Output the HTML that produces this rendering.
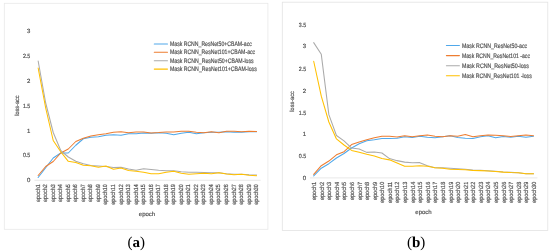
<!DOCTYPE html>
<html lang="en"><head><meta charset="utf-8"><title>loss-acc curves</title>
<style>
html,body{margin:0;padding:0;background:#fff;}
body{width:550px;height:252px;overflow:hidden;}
svg{display:block;font-family:"Liberation Sans",sans-serif;text-rendering:geometricPrecision;}
.c text{stroke:#505050;stroke-width:0.18px;}
.c text.cap{stroke:none;}
</style></head><body>
<svg width="550" height="252" viewBox="0 0 550 252">
<rect x="0" y="0" width="550" height="252" fill="#ffffff"/>
<g class="c">
<rect x="4.3" y="3.3" width="263.59999999999997" height="226.0" fill="#fff" stroke="#e8e8e8" stroke-width="0.8"/>
<line x1="34.4" y1="180.3" x2="260.6" y2="180.3" stroke="#dedede" stroke-width="0.7"/>
<text x="30.3" y="182.35" text-anchor="end" font-size="6.0" fill="#505050">0</text>
<text x="30.3" y="157.30" text-anchor="end" font-size="6.0" fill="#505050" textLength="7.4" lengthAdjust="spacingAndGlyphs">0.5</text>
<text x="30.3" y="132.65" text-anchor="end" font-size="6.0" fill="#505050">1</text>
<text x="30.3" y="107.70" text-anchor="end" font-size="6.0" fill="#505050" textLength="7.4" lengthAdjust="spacingAndGlyphs">1.5</text>
<text x="30.3" y="83.10" text-anchor="end" font-size="6.0" fill="#505050">2</text>
<text x="30.3" y="58.05" text-anchor="end" font-size="6.0" fill="#505050" textLength="7.4" lengthAdjust="spacingAndGlyphs">2.5</text>
<text x="30.3" y="32.85" text-anchor="end" font-size="6.0" fill="#505050">3</text>
<text transform="translate(39.65,184.20) rotate(-90)" text-anchor="end" font-size="6.0" fill="#505050" textLength="17.8" lengthAdjust="spacingAndGlyphs">epoch1</text>
<text transform="translate(47.18,184.20) rotate(-90)" text-anchor="end" font-size="6.0" fill="#505050" textLength="17.8" lengthAdjust="spacingAndGlyphs">epoch2</text>
<text transform="translate(54.72,184.20) rotate(-90)" text-anchor="end" font-size="6.0" fill="#505050" textLength="17.8" lengthAdjust="spacingAndGlyphs">epoch3</text>
<text transform="translate(62.25,184.20) rotate(-90)" text-anchor="end" font-size="6.0" fill="#505050" textLength="17.8" lengthAdjust="spacingAndGlyphs">epoch4</text>
<text transform="translate(69.78,184.20) rotate(-90)" text-anchor="end" font-size="6.0" fill="#505050" textLength="17.8" lengthAdjust="spacingAndGlyphs">epoch5</text>
<text transform="translate(77.31,184.20) rotate(-90)" text-anchor="end" font-size="6.0" fill="#505050" textLength="17.8" lengthAdjust="spacingAndGlyphs">epoch6</text>
<text transform="translate(84.85,184.20) rotate(-90)" text-anchor="end" font-size="6.0" fill="#505050" textLength="17.8" lengthAdjust="spacingAndGlyphs">epoch7</text>
<text transform="translate(92.38,184.20) rotate(-90)" text-anchor="end" font-size="6.0" fill="#505050" textLength="17.8" lengthAdjust="spacingAndGlyphs">epoch8</text>
<text transform="translate(99.91,184.20) rotate(-90)" text-anchor="end" font-size="6.0" fill="#505050" textLength="17.8" lengthAdjust="spacingAndGlyphs">epoch9</text>
<text transform="translate(107.44,184.20) rotate(-90)" text-anchor="end" font-size="6.0" fill="#505050" textLength="20.6" lengthAdjust="spacingAndGlyphs">epoch10</text>
<text transform="translate(114.98,184.20) rotate(-90)" text-anchor="end" font-size="6.0" fill="#505050" textLength="20.6" lengthAdjust="spacingAndGlyphs">epoch11</text>
<text transform="translate(122.51,184.20) rotate(-90)" text-anchor="end" font-size="6.0" fill="#505050" textLength="20.6" lengthAdjust="spacingAndGlyphs">epoch12</text>
<text transform="translate(130.04,184.20) rotate(-90)" text-anchor="end" font-size="6.0" fill="#505050" textLength="20.6" lengthAdjust="spacingAndGlyphs">epoch13</text>
<text transform="translate(137.58,184.20) rotate(-90)" text-anchor="end" font-size="6.0" fill="#505050" textLength="20.6" lengthAdjust="spacingAndGlyphs">epoch14</text>
<text transform="translate(145.11,184.20) rotate(-90)" text-anchor="end" font-size="6.0" fill="#505050" textLength="20.6" lengthAdjust="spacingAndGlyphs">epoch15</text>
<text transform="translate(152.64,184.20) rotate(-90)" text-anchor="end" font-size="6.0" fill="#505050" textLength="20.6" lengthAdjust="spacingAndGlyphs">epoch16</text>
<text transform="translate(160.17,184.20) rotate(-90)" text-anchor="end" font-size="6.0" fill="#505050" textLength="20.6" lengthAdjust="spacingAndGlyphs">epoch17</text>
<text transform="translate(167.71,184.20) rotate(-90)" text-anchor="end" font-size="6.0" fill="#505050" textLength="20.6" lengthAdjust="spacingAndGlyphs">epoch18</text>
<text transform="translate(175.24,184.20) rotate(-90)" text-anchor="end" font-size="6.0" fill="#505050" textLength="20.6" lengthAdjust="spacingAndGlyphs">epoch19</text>
<text transform="translate(182.77,184.20) rotate(-90)" text-anchor="end" font-size="6.0" fill="#505050" textLength="20.6" lengthAdjust="spacingAndGlyphs">epoch20</text>
<text transform="translate(190.31,184.20) rotate(-90)" text-anchor="end" font-size="6.0" fill="#505050" textLength="20.6" lengthAdjust="spacingAndGlyphs">epoch21</text>
<text transform="translate(197.84,184.20) rotate(-90)" text-anchor="end" font-size="6.0" fill="#505050" textLength="20.6" lengthAdjust="spacingAndGlyphs">epoch22</text>
<text transform="translate(205.37,184.20) rotate(-90)" text-anchor="end" font-size="6.0" fill="#505050" textLength="20.6" lengthAdjust="spacingAndGlyphs">epoch23</text>
<text transform="translate(212.90,184.20) rotate(-90)" text-anchor="end" font-size="6.0" fill="#505050" textLength="20.6" lengthAdjust="spacingAndGlyphs">epoch24</text>
<text transform="translate(220.44,184.20) rotate(-90)" text-anchor="end" font-size="6.0" fill="#505050" textLength="20.6" lengthAdjust="spacingAndGlyphs">epoch25</text>
<text transform="translate(227.97,184.20) rotate(-90)" text-anchor="end" font-size="6.0" fill="#505050" textLength="20.6" lengthAdjust="spacingAndGlyphs">epoch26</text>
<text transform="translate(235.50,184.20) rotate(-90)" text-anchor="end" font-size="6.0" fill="#505050" textLength="20.6" lengthAdjust="spacingAndGlyphs">epoch27</text>
<text transform="translate(243.03,184.20) rotate(-90)" text-anchor="end" font-size="6.0" fill="#505050" textLength="20.6" lengthAdjust="spacingAndGlyphs">epoch28</text>
<text transform="translate(250.57,184.20) rotate(-90)" text-anchor="end" font-size="6.0" fill="#505050" textLength="20.6" lengthAdjust="spacingAndGlyphs">epoch29</text>
<text transform="translate(258.10,184.20) rotate(-90)" text-anchor="end" font-size="6.0" fill="#505050" textLength="20.6" lengthAdjust="spacingAndGlyphs">epoch30</text>
<text x="147" y="215.5" text-anchor="middle" font-size="6.0" fill="#505050">epoch</text>
<text transform="translate(18.6,105.6) rotate(-90)" text-anchor="middle" font-size="6.0" fill="#505050" textLength="20.4" lengthAdjust="spacingAndGlyphs">loss-acc</text>
<polyline points="38.15,177.50 45.68,167.80 53.22,158.00 60.75,153.00 68.28,153.00 75.81,145.25 83.35,138.75 90.88,137.25 98.41,136.65 105.94,135.15 113.48,134.75 121.01,135.25 128.54,133.70 136.08,133.70 143.61,133.00 151.14,133.20 158.67,132.70 166.21,133.20 173.74,134.70 181.27,133.20 188.81,132.15 196.34,133.75 203.87,132.70 211.40,132.15 218.94,132.15 226.47,131.65 234.00,132.15 241.53,132.15 249.07,131.65 256.60,131.65" fill="none" stroke="#50a8ea" stroke-width="1.05" stroke-linejoin="round" stroke-linecap="round"/>
<polyline points="38.15,175.50 45.68,166.50 53.22,161.50 60.75,153.00 68.28,149.00 75.81,141.50 83.35,138.20 90.88,136.00 98.41,134.75 105.94,133.70 113.48,132.20 121.01,131.70 128.54,132.70 136.08,131.90 143.61,131.90 151.14,133.10 158.67,132.60 166.21,131.90 173.74,131.90 181.27,131.15 188.81,131.15 196.34,132.15 203.87,132.70 211.40,131.65 218.94,132.70 226.47,131.15 234.00,131.15 241.53,131.65 249.07,131.15 256.60,131.50" fill="none" stroke="#ed7d31" stroke-width="1.05" stroke-linejoin="round" stroke-linecap="round"/>
<polyline points="38.15,61.00 45.68,103.00 53.22,132.50 60.75,150.50 68.28,157.00 75.81,161.30 83.35,163.85 90.88,165.50 98.41,165.90 105.94,166.40 113.48,167.40 121.01,167.30 128.54,169.00 136.08,170.25 143.61,168.70 151.14,169.50 158.67,170.25 166.21,170.75 173.74,170.75 181.27,171.75 188.81,172.25 196.34,172.25 203.87,172.50 211.40,172.75 218.94,172.75 226.47,173.80 234.00,174.30 241.53,174.30 249.07,174.80 256.60,175.10" fill="none" stroke="#ababab" stroke-width="1.05" stroke-linejoin="round" stroke-linecap="round"/>
<polyline points="38.15,68.00 45.68,108.00 53.22,140.50 60.75,151.75 68.28,161.30 75.81,162.45 83.35,165.35 90.88,165.75 98.41,167.30 105.94,166.00 113.48,169.20 121.01,168.05 128.54,170.50 136.08,171.25 143.61,172.25 151.14,173.80 158.67,173.80 166.21,172.25 173.74,171.25 181.27,173.30 188.81,174.30 196.34,173.80 203.87,173.30 211.40,173.80 218.94,172.75 226.47,174.00 234.00,174.80 241.53,174.30 249.07,175.30 256.60,175.80" fill="none" stroke="#ffc000" stroke-width="1.05" stroke-linejoin="round" stroke-linecap="round"/>
<line x1="154.3" y1="43.9" x2="167.5" y2="43.9" stroke="#50a8ea" stroke-width="1.05" stroke-linecap="round"/>
<text x="170.0" y="46.05" font-size="6.4" fill="#505050" textLength="81.8" lengthAdjust="spacingAndGlyphs">Mask RCNN_ResNet50+CBAM-acc</text>
<line x1="154.3" y1="52.3" x2="167.5" y2="52.3" stroke="#ed7d31" stroke-width="1.05" stroke-linecap="round"/>
<text x="170.0" y="54.45" font-size="6.4" fill="#505050" textLength="85.2" lengthAdjust="spacingAndGlyphs">Mask RCNN_ResNet101+CBAM-acc</text>
<line x1="154.3" y1="60.7" x2="167.5" y2="60.7" stroke="#ababab" stroke-width="1.05" stroke-linecap="round"/>
<text x="170.0" y="62.85" font-size="6.4" fill="#505050" textLength="83.6" lengthAdjust="spacingAndGlyphs">Mask RCNN_ResNet50+CBAM-loss</text>
<line x1="154.3" y1="69.1" x2="167.5" y2="69.1" stroke="#ffc000" stroke-width="1.05" stroke-linecap="round"/>
<text x="170.0" y="71.25" font-size="6.4" fill="#505050" textLength="86.8" lengthAdjust="spacingAndGlyphs">Mask RCNN_ResNet101+CBAM-loss</text>
<text x="136.3" y="247.2" class="cap" text-anchor="middle" font-family="'Liberation Serif', serif" font-size="15" fill="#000">(<tspan font-weight="bold">a</tspan>)</text>
</g>
<g class="c">
<rect x="282.3" y="2.2" width="265.49999999999994" height="228.20000000000002" fill="#fff" stroke="#e3e3e3" stroke-width="0.8"/>
<line x1="309.9" y1="177.9" x2="537.4" y2="177.9" stroke="#dedede" stroke-width="0.7"/>
<text x="306.2" y="179.85" text-anchor="end" font-size="6.0" fill="#505050">0</text>
<text x="306.2" y="158.00" text-anchor="end" font-size="6.0" fill="#505050" textLength="7.4" lengthAdjust="spacingAndGlyphs">0.5</text>
<text x="306.2" y="136.35" text-anchor="end" font-size="6.0" fill="#505050">1</text>
<text x="306.2" y="114.75" text-anchor="end" font-size="6.0" fill="#505050" textLength="7.4" lengthAdjust="spacingAndGlyphs">1.5</text>
<text x="306.2" y="93.35" text-anchor="end" font-size="6.0" fill="#505050">2</text>
<text x="306.2" y="70.60" text-anchor="end" font-size="6.0" fill="#505050" textLength="7.4" lengthAdjust="spacingAndGlyphs">2.5</text>
<text x="306.2" y="48.35" text-anchor="end" font-size="6.0" fill="#505050">3</text>
<text x="306.2" y="26.90" text-anchor="end" font-size="6.0" fill="#505050" textLength="7.4" lengthAdjust="spacingAndGlyphs">3.5</text>
<text transform="translate(316.10,181.80) rotate(-90)" text-anchor="end" font-size="6.0" fill="#505050" textLength="18.3" lengthAdjust="spacingAndGlyphs">epoch1</text>
<text transform="translate(323.68,181.80) rotate(-90)" text-anchor="end" font-size="6.0" fill="#505050" textLength="18.3" lengthAdjust="spacingAndGlyphs">epoch2</text>
<text transform="translate(331.26,181.80) rotate(-90)" text-anchor="end" font-size="6.0" fill="#505050" textLength="18.3" lengthAdjust="spacingAndGlyphs">epoch3</text>
<text transform="translate(338.84,181.80) rotate(-90)" text-anchor="end" font-size="6.0" fill="#505050" textLength="18.3" lengthAdjust="spacingAndGlyphs">epoch4</text>
<text transform="translate(346.42,181.80) rotate(-90)" text-anchor="end" font-size="6.0" fill="#505050" textLength="18.3" lengthAdjust="spacingAndGlyphs">epoch5</text>
<text transform="translate(354.00,181.80) rotate(-90)" text-anchor="end" font-size="6.0" fill="#505050" textLength="18.3" lengthAdjust="spacingAndGlyphs">epoch6</text>
<text transform="translate(361.58,181.80) rotate(-90)" text-anchor="end" font-size="6.0" fill="#505050" textLength="18.3" lengthAdjust="spacingAndGlyphs">epoch7</text>
<text transform="translate(369.16,181.80) rotate(-90)" text-anchor="end" font-size="6.0" fill="#505050" textLength="18.3" lengthAdjust="spacingAndGlyphs">epoch8</text>
<text transform="translate(376.73,181.80) rotate(-90)" text-anchor="end" font-size="6.0" fill="#505050" textLength="18.3" lengthAdjust="spacingAndGlyphs">epoch9</text>
<text transform="translate(384.31,181.80) rotate(-90)" text-anchor="end" font-size="6.0" fill="#505050" textLength="21.1" lengthAdjust="spacingAndGlyphs">epoch10</text>
<text transform="translate(391.89,181.80) rotate(-90)" text-anchor="end" font-size="6.0" fill="#505050" textLength="21.1" lengthAdjust="spacingAndGlyphs">epoch11</text>
<text transform="translate(399.47,181.80) rotate(-90)" text-anchor="end" font-size="6.0" fill="#505050" textLength="21.1" lengthAdjust="spacingAndGlyphs">epoch12</text>
<text transform="translate(407.05,181.80) rotate(-90)" text-anchor="end" font-size="6.0" fill="#505050" textLength="21.1" lengthAdjust="spacingAndGlyphs">epoch13</text>
<text transform="translate(414.63,181.80) rotate(-90)" text-anchor="end" font-size="6.0" fill="#505050" textLength="21.1" lengthAdjust="spacingAndGlyphs">epoch14</text>
<text transform="translate(422.21,181.80) rotate(-90)" text-anchor="end" font-size="6.0" fill="#505050" textLength="21.1" lengthAdjust="spacingAndGlyphs">epoch15</text>
<text transform="translate(429.79,181.80) rotate(-90)" text-anchor="end" font-size="6.0" fill="#505050" textLength="21.1" lengthAdjust="spacingAndGlyphs">epoch16</text>
<text transform="translate(437.37,181.80) rotate(-90)" text-anchor="end" font-size="6.0" fill="#505050" textLength="21.1" lengthAdjust="spacingAndGlyphs">epoch17</text>
<text transform="translate(444.95,181.80) rotate(-90)" text-anchor="end" font-size="6.0" fill="#505050" textLength="21.1" lengthAdjust="spacingAndGlyphs">epoch18</text>
<text transform="translate(452.53,181.80) rotate(-90)" text-anchor="end" font-size="6.0" fill="#505050" textLength="21.1" lengthAdjust="spacingAndGlyphs">epoch19</text>
<text transform="translate(460.11,181.80) rotate(-90)" text-anchor="end" font-size="6.0" fill="#505050" textLength="21.1" lengthAdjust="spacingAndGlyphs">epoch20</text>
<text transform="translate(467.69,181.80) rotate(-90)" text-anchor="end" font-size="6.0" fill="#505050" textLength="21.1" lengthAdjust="spacingAndGlyphs">epoch21</text>
<text transform="translate(475.27,181.80) rotate(-90)" text-anchor="end" font-size="6.0" fill="#505050" textLength="21.1" lengthAdjust="spacingAndGlyphs">epoch22</text>
<text transform="translate(482.84,181.80) rotate(-90)" text-anchor="end" font-size="6.0" fill="#505050" textLength="21.1" lengthAdjust="spacingAndGlyphs">epoch23</text>
<text transform="translate(490.42,181.80) rotate(-90)" text-anchor="end" font-size="6.0" fill="#505050" textLength="21.1" lengthAdjust="spacingAndGlyphs">epoch24</text>
<text transform="translate(498.00,181.80) rotate(-90)" text-anchor="end" font-size="6.0" fill="#505050" textLength="21.1" lengthAdjust="spacingAndGlyphs">epoch25</text>
<text transform="translate(505.58,181.80) rotate(-90)" text-anchor="end" font-size="6.0" fill="#505050" textLength="21.1" lengthAdjust="spacingAndGlyphs">epoch26</text>
<text transform="translate(513.16,181.80) rotate(-90)" text-anchor="end" font-size="6.0" fill="#505050" textLength="21.1" lengthAdjust="spacingAndGlyphs">epoch27</text>
<text transform="translate(520.74,181.80) rotate(-90)" text-anchor="end" font-size="6.0" fill="#505050" textLength="21.1" lengthAdjust="spacingAndGlyphs">epoch28</text>
<text transform="translate(528.32,181.80) rotate(-90)" text-anchor="end" font-size="6.0" fill="#505050" textLength="21.1" lengthAdjust="spacingAndGlyphs">epoch29</text>
<text transform="translate(535.90,181.80) rotate(-90)" text-anchor="end" font-size="6.0" fill="#505050" textLength="21.1" lengthAdjust="spacingAndGlyphs">epoch30</text>
<text x="423.5" y="213.79999999999998" text-anchor="middle" font-size="6.0" fill="#505050">epoch</text>
<text transform="translate(294.1,101.5) rotate(-90)" text-anchor="middle" font-size="6.0" fill="#505050" textLength="20.4" lengthAdjust="spacingAndGlyphs">loss-acc</text>
<polyline points="313.70,175.83 321.28,168.24 328.86,163.68 336.44,158.04 344.02,153.48 351.60,148.05 359.18,143.80 366.76,140.81 374.33,139.81 381.91,138.51 389.49,138.51 397.07,138.29 404.65,136.77 412.23,137.42 419.81,136.21 427.39,137.20 434.97,137.72 442.55,136.77 450.13,135.69 457.71,137.42 465.29,138.20 472.87,138.51 480.44,136.77 488.02,135.69 495.60,137.85 503.18,136.55 510.76,137.20 518.34,136.21 525.92,137.29 533.50,136.21" fill="none" stroke="#50a8ea" stroke-width="1.05" stroke-linejoin="round" stroke-linecap="round"/>
<polyline points="313.70,174.40 321.28,165.72 328.86,161.07 336.44,154.78 344.02,151.70 351.60,144.58 359.18,141.98 366.76,139.81 374.33,137.72 381.91,136.21 389.49,136.21 397.07,136.94 404.65,135.69 412.23,136.77 419.81,135.69 427.39,134.90 434.97,136.21 442.55,136.77 450.13,135.69 457.71,136.21 465.29,134.60 472.87,136.77 480.44,135.69 488.02,135.03 495.60,135.25 503.18,135.69 510.76,136.55 518.34,135.69 525.92,135.03 533.50,135.69" fill="none" stroke="#ed7d31" stroke-width="1.05" stroke-linejoin="round" stroke-linecap="round"/>
<polyline points="313.70,42.59 321.28,54.31 328.86,114.64 336.44,135.47 344.02,140.81 351.60,148.05 359.18,148.92 366.76,152.39 374.33,151.96 381.91,152.96 389.49,158.60 397.07,160.64 404.65,162.12 412.23,162.81 419.81,162.64 427.39,165.72 434.97,167.71 442.55,167.71 450.13,168.24 457.71,168.71 465.29,169.32 472.87,170.01 480.44,170.19 488.02,170.80 495.60,171.32 503.18,172.05 510.76,172.36 518.34,172.79 525.92,173.66 533.50,173.66" fill="none" stroke="#ababab" stroke-width="1.05" stroke-linejoin="round" stroke-linecap="round"/>
<polyline points="313.70,61.25 321.28,96.19 328.86,122.01 336.44,138.94 344.02,145.02 351.60,150.44 359.18,152.22 366.76,154.26 374.33,156.04 381.91,158.60 389.49,159.86 397.07,162.90 404.65,166.20 412.23,166.20 419.81,165.72 427.39,166.20 434.97,167.71 442.55,168.24 450.13,169.32 457.71,169.54 465.29,169.75 472.87,170.41 480.44,170.62 488.02,171.06 495.60,171.49 503.18,172.14 510.76,172.57 518.34,172.79 525.92,173.66 533.50,173.66" fill="none" stroke="#ffc000" stroke-width="1.05" stroke-linejoin="round" stroke-linecap="round"/>
<line x1="446.4" y1="45.5" x2="459.4" y2="45.5" stroke="#50a8ea" stroke-width="1.05" stroke-linecap="round"/>
<text x="462.0" y="47.65" font-size="6.4" fill="#505050" textLength="65.2" lengthAdjust="spacingAndGlyphs">Mask RCNN_ResNet50-acc</text>
<line x1="446.4" y1="55.6" x2="459.4" y2="55.6" stroke="#ed7d31" stroke-width="1.05" stroke-linecap="round"/>
<text x="462.0" y="57.75" font-size="6.4" fill="#505050" textLength="68.0" lengthAdjust="spacingAndGlyphs">Mask RCNN_ResNet101 -acc</text>
<line x1="446.4" y1="65.7" x2="459.4" y2="65.7" stroke="#ababab" stroke-width="1.05" stroke-linecap="round"/>
<text x="462.0" y="67.85" font-size="6.4" fill="#505050" textLength="66.9" lengthAdjust="spacingAndGlyphs">Mask RCNN_ResNet50-loss</text>
<line x1="446.4" y1="75.8" x2="459.4" y2="75.8" stroke="#ffc000" stroke-width="1.05" stroke-linecap="round"/>
<text x="462.0" y="77.95" font-size="6.4" fill="#505050" textLength="69.8" lengthAdjust="spacingAndGlyphs">Mask RCNN_ResNet101 -loss</text>
<text x="416.2" y="247.2" class="cap" text-anchor="middle" font-family="'Liberation Serif', serif" font-size="15" fill="#000">(<tspan font-weight="bold">b</tspan>)</text>
</g>
</svg>
</body></html>
